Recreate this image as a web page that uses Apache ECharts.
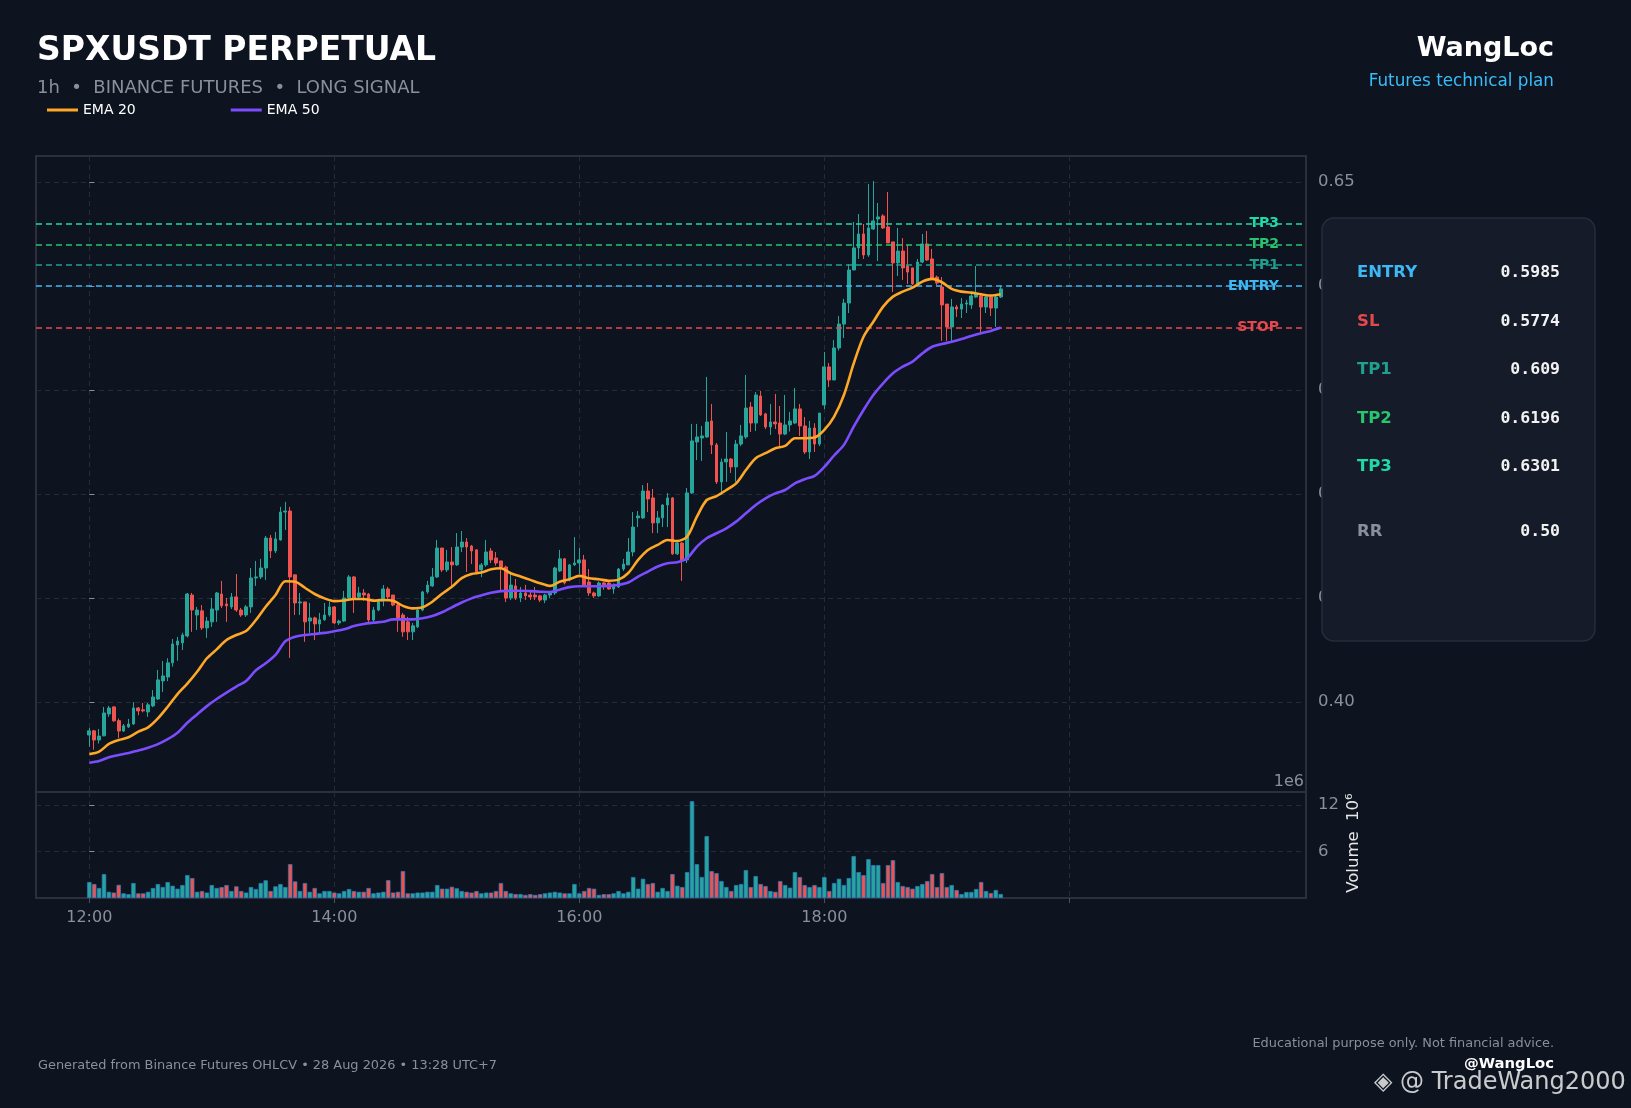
<!DOCTYPE html>
<html><head><meta charset="utf-8">
<script src="https://cdn.jsdelivr.net/npm/echarts@6/dist/echarts.min.js"></script>
<style>html,body{margin:0;padding:0;background:#0d131f;}#c{width:1631px;height:1108px;}</style>
</head><body><div id="c"></div>
<script>
// OHLC per candle: [open, high, low, close]
const candles = [
[0.3841,0.3875,0.3784,0.3861],[0.3861,0.3866,0.3770,0.3817],[0.3817,0.3870,0.3800,0.3836],[0.3837,0.3976,0.3835,0.3947],[0.3942,0.3981,0.3928,0.3971],
[0.3976,0.3980,0.3905,0.3909],[0.3910,0.3920,0.3827,0.3860],[0.3860,0.3894,0.3856,0.3885],[0.3880,0.3918,0.3875,0.3894],[0.3894,0.4000,0.3890,0.3971],
[0.3971,0.3976,0.3936,0.3957],[0.3962,0.3995,0.3950,0.3957],[0.3952,0.3995,0.3928,0.3986],[0.3981,0.4057,0.3975,0.4024],[0.4014,0.4154,0.4010,0.4106],
[0.4101,0.4197,0.4048,0.4125],[0.4120,0.4210,0.4100,0.4188],[0.4188,0.4303,0.4170,0.4279],[0.4274,0.4313,0.4198,0.4293],[0.4284,0.4333,0.4250,0.4322],
[0.4317,0.4524,0.4310,0.4519],[0.4514,0.4524,0.4337,0.4442],[0.4418,0.4457,0.4346,0.4442],[0.4438,0.4466,0.4346,0.4356],[0.4356,0.4409,0.4308,0.4389],
[0.4385,0.4500,0.4361,0.4447],[0.4442,0.4529,0.4385,0.4524],[0.4519,0.4582,0.4452,0.4462],[0.4471,0.4500,0.4385,0.4462],[0.4457,0.4524,0.4447,0.4505],
[0.4505,0.4615,0.4433,0.4442],[0.4442,0.4452,0.4409,0.4418],[0.4418,0.4466,0.4409,0.4457],[0.4457,0.4644,0.4428,0.4596],[0.4596,0.4678,0.4558,0.4601],
[0.4601,0.4688,0.4591,0.4644],[0.4644,0.4798,0.4586,0.4788],[0.4788,0.4803,0.4692,0.4726],[0.4726,0.4817,0.4716,0.4784],[0.4779,0.4938,0.4775,0.4913],
[0.4913,0.4962,0.4827,0.4918],[0.4918,0.4938,0.4212,0.4601],[0.4611,0.4611,0.4418,0.4476],[0.4476,0.4524,0.4418,0.4481],[0.4481,0.4481,0.4289,0.4385],
[0.4389,0.4476,0.4332,0.4404],[0.4404,0.4410,0.4298,0.4375],[0.4375,0.4428,0.4332,0.4395],[0.4395,0.4476,0.4390,0.4418],[0.4418,0.4481,0.4410,0.4457],
[0.4457,0.4460,0.4375,0.4380],[0.4380,0.4395,0.4370,0.4389],[0.4389,0.4534,0.4385,0.4500],[0.4500,0.4610,0.4495,0.4601],[0.4601,0.4605,0.4428,0.4500],
[0.4505,0.4553,0.4500,0.4524],[0.4524,0.4543,0.4486,0.4514],[0.4519,0.4524,0.4380,0.4394],[0.4394,0.4457,0.4385,0.4442],[0.4442,0.4495,0.4436,0.4481],
[0.4485,0.4562,0.4460,0.4543],[0.4543,0.4553,0.4490,0.4505],[0.4514,0.4514,0.4460,0.4466],[0.4466,0.4476,0.4337,0.4404],[0.4418,0.4428,0.4313,0.4337],
[0.4385,0.4409,0.4298,0.4337],[0.4337,0.4380,0.4298,0.4366],[0.4361,0.4447,0.4355,0.4442],[0.4442,0.4534,0.4436,0.4529],[0.4529,0.4582,0.4520,0.4562],
[0.4558,0.4644,0.4553,0.4601],[0.4601,0.4779,0.4596,0.4740],[0.4740,0.4740,0.4625,0.4635],[0.4635,0.4731,0.4625,0.4673],[0.4673,0.4745,0.4553,0.4659],
[0.4659,0.4812,0.4654,0.4745],[0.4745,0.4822,0.4721,0.4769],[0.4769,0.4788,0.4625,0.4745],[0.4750,0.4755,0.4663,0.4726],[0.4731,0.4735,0.4620,0.4625],
[0.4635,0.4668,0.4600,0.4659],[0.4659,0.4779,0.4650,0.4721],[0.4726,0.4740,0.4668,0.4683],[0.4692,0.4721,0.4655,0.4668],[0.4678,0.4678,0.4538,0.4649],
[0.4649,0.4655,0.4480,0.4500],[0.4500,0.4615,0.4490,0.4562],[0.4558,0.4591,0.4490,0.4500],[0.4500,0.4553,0.4480,0.4524],[0.4524,0.4563,0.4490,0.4510],
[0.4514,0.4534,0.4490,0.4505],[0.4514,0.4553,0.4490,0.4505],[0.4510,0.4515,0.4480,0.4490],[0.4490,0.4520,0.4475,0.4514],[0.4514,0.4530,0.4500,0.4524],
[0.4524,0.4650,0.4515,0.4644],[0.4630,0.4731,0.4625,0.4688],[0.4688,0.4692,0.4565,0.4572],[0.4587,0.4663,0.4580,0.4659],[0.4659,0.4793,0.4655,0.4668],
[0.4668,0.4740,0.4615,0.4683],[0.4683,0.4707,0.4555,0.4563],[0.4577,0.4639,0.4510,0.4524],[0.4524,0.4530,0.4500,0.4510],[0.4510,0.4580,0.4505,0.4572],
[0.4572,0.4577,0.4540,0.4563],[0.4572,0.4577,0.4540,0.4543],[0.4543,0.4570,0.4520,0.4558],[0.4553,0.4644,0.4548,0.4639],[0.4639,0.4688,0.4630,0.4663],
[0.4659,0.4788,0.4659,0.4721],[0.4721,0.4913,0.4700,0.4841],[0.4885,0.4918,0.4841,0.4894],[0.4885,0.5043,0.4880,0.5014],[0.5014,0.5053,0.4913,0.4976],
[0.4981,0.5024,0.4812,0.4861],[0.4861,0.4918,0.4812,0.4885],[0.4885,0.4950,0.4841,0.4947],[0.4947,0.5005,0.4841,0.4981],[0.4981,0.4985,0.4707,0.4712],
[0.4712,0.4779,0.4707,0.4764],[0.4764,0.4768,0.4582,0.4683],[0.4683,0.5029,0.4668,0.5005],[0.5005,0.5337,0.5000,0.5255],[0.5250,0.5337,0.5163,0.5274],
[0.5269,0.5327,0.5159,0.5279],[0.5274,0.5563,0.5270,0.5346],[0.5351,0.5433,0.5192,0.5236],[0.5236,0.5245,0.5048,0.5058],[0.5058,0.5170,0.4995,0.5154],
[0.5154,0.5298,0.5058,0.5168],[0.5168,0.5173,0.5101,0.5130],[0.5130,0.5260,0.5058,0.5240],[0.5240,0.5332,0.5230,0.5279],[0.5274,0.5572,0.5265,0.5413],
[0.5418,0.5442,0.5298,0.5341],[0.5341,0.5490,0.5303,0.5476],[0.5471,0.5495,0.5375,0.5380],[0.5385,0.5390,0.5312,0.5322],[0.5322,0.5433,0.5284,0.5346],
[0.5346,0.5481,0.5312,0.5337],[0.5341,0.5423,0.5231,0.5288],[0.5288,0.5476,0.5283,0.5332],[0.5332,0.5394,0.5300,0.5351],[0.5341,0.5510,0.5336,0.5409],
[0.5409,0.5433,0.5279,0.5327],[0.5327,0.5370,0.5192,0.5202],[0.5202,0.5351,0.5168,0.5317],[0.5317,0.5340,0.5202,0.5240],[0.5240,0.5389,0.5230,0.5389],
[0.5428,0.5683,0.5408,0.5611],[0.5611,0.5630,0.5514,0.5548],[0.5548,0.5740,0.5548,0.5702],[0.5702,0.5856,0.5690,0.5817],[0.5817,0.5938,0.5750,0.5918],
[0.5918,0.6106,0.5870,0.6077],[0.6077,0.6308,0.6077,0.6183],[0.6183,0.6346,0.6130,0.6250],[0.6250,0.6298,0.6130,0.6149],[0.6149,0.6490,0.6140,0.6279],
[0.6274,0.6505,0.6270,0.6313],[0.6322,0.6399,0.6120,0.6332],[0.6337,0.6345,0.6274,0.6279],[0.6284,0.6452,0.6207,0.6207],[0.6212,0.6212,0.5971,0.6111],
[0.6111,0.6279,0.6048,0.6168],[0.6168,0.6230,0.6029,0.6087],[0.6096,0.6197,0.6010,0.6067],[0.6087,0.6087,0.6005,0.6010],[0.6010,0.6130,0.6005,0.6115],
[0.6115,0.6250,0.6110,0.6202],[0.6202,0.6264,0.6120,0.6125],[0.6130,0.6178,0.6034,0.6038],[0.6043,0.6050,0.6005,0.6014],[0.5995,0.6043,0.5736,0.5909],
[0.5913,0.5913,0.5736,0.5803],[0.5803,0.5938,0.5736,0.5899],[0.5899,0.5909,0.5851,0.5889],[0.5889,0.5942,0.5846,0.5913],[0.5913,0.5933,0.5870,0.5918],
[0.5909,0.5962,0.5890,0.5952],[0.5947,0.6096,0.5942,0.5962],[0.5952,0.5957,0.5774,0.5899],[0.5899,0.5957,0.5870,0.5947],[0.5947,0.5952,0.5856,0.5894],
[0.5894,0.5962,0.5803,0.5947],[0.5947,0.6000,0.5942,0.5986]
];
// volume in millions, one per candle
const volumes = [
2.06,1.80,1.29,3.08,0.80,0.70,1.70,0.60,0.50,1.93,
0.60,0.60,0.80,1.29,1.80,1.41,2.06,1.58,1.20,1.67,
2.95,2.57,0.80,0.90,0.70,1.67,1.29,1.41,1.67,0.90,
1.50,0.90,0.70,1.41,1.16,1.93,2.28,0.90,1.50,1.80,
1.41,4.37,2.14,0.90,1.93,0.80,1.29,0.60,0.90,0.90,
0.70,0.60,0.90,1.16,0.90,0.80,0.80,1.29,0.60,0.70,
0.80,2.30,0.70,0.80,3.47,0.60,0.60,0.70,0.70,0.80,
0.80,1.67,1.20,1.20,1.45,1.25,0.90,0.80,0.70,0.90,
0.60,0.70,0.70,0.90,1.93,0.90,0.60,0.50,0.50,0.40,
0.50,0.40,0.50,0.60,0.70,0.80,0.70,0.60,0.60,1.80,
0.60,0.90,1.29,1.20,0.40,0.50,0.50,0.60,0.90,0.60,
0.80,2.70,1.20,2.48,1.80,1.93,0.80,1.29,0.90,3.08,
1.58,1.41,3.34,12.47,4.37,2.70,7.97,3.47,3.21,2.18,
1.41,0.90,1.67,1.80,3.60,1.41,2.83,1.80,1.54,0.90,
0.80,2.18,1.67,1.33,3.34,2.70,1.67,1.41,1.67,1.41,
2.70,0.90,1.93,2.48,1.67,2.57,5.40,3.34,2.95,5.01,
4.24,4.24,1.93,4.24,4.88,2.06,1.54,1.41,1.20,1.54,
1.80,2.18,3.08,1.41,3.21,1.41,1.67,1.03,0.51,0.77,
0.77,1.16,2.06,0.90,0.64,1.03,0.51
];
// EMA readings, sampled every second candle
const emaIdx = [0,2,4,6,8,10,12,14,16,18,20,22,24,26,28,30,32,34,36,38,40,42,44,46,48,50,52,54,56,58,60,62,64,66,68,70,72,74,76,78,80,82,84,86,88,90,92,94,96,98,100,102,104,106,108,110,112,114,116,118,120,122,124,126,128,130,132,134,136,138,140,142,144,146,148,150,152,154,156,158,160,162,164,166,168,170,172,174,176,178,180,182,184,186];
const ema20 = [0.3749,0.3761,0.3798,0.3817,0.3830,0.3857,0.3878,0.3921,0.3977,0.4038,0.4088,0.4145,0.4210,0.4253,0.4298,0.4322,0.4341,0.4394,0.4458,0.4514,0.4580,0.4578,0.4549,0.4519,0.4498,0.4485,0.4488,0.4495,0.4495,0.4487,0.4490,0.4487,0.4462,0.4450,0.4455,0.4482,0.4520,0.4554,0.4595,0.4615,0.4622,0.4638,0.4643,0.4619,0.4603,0.4587,0.4571,0.4558,0.4578,0.4590,0.4606,0.4595,0.4590,0.4583,0.4588,0.4620,0.4683,0.4731,0.4755,0.4779,0.4774,0.4795,0.4891,0.4971,0.4990,0.5019,0.5051,0.5115,0.5172,0.5196,0.5220,0.5231,0.5268,0.5268,0.5271,0.5308,0.5372,0.5476,0.5628,0.5756,0.5828,0.5901,0.5949,0.5973,0.5992,0.6021,0.6034,0.6018,0.5986,0.5973,0.5968,0.5960,0.5954,0.5960];
const ema50 = [0.3708,0.3716,0.3734,0.3745,0.3755,0.3766,0.3780,0.3797,0.3821,0.3852,0.3900,0.3940,0.3980,0.4014,0.4045,0.4074,0.4101,0.4152,0.4186,0.4226,0.4292,0.4314,0.4322,0.4327,0.4332,0.4340,0.4349,0.4365,0.4375,0.4381,0.4386,0.4397,0.4397,0.4397,0.4402,0.4413,0.4431,0.4455,0.4478,0.4498,0.4512,0.4525,0.4533,0.4535,0.4535,0.4533,0.4530,0.4528,0.4540,0.4552,0.4556,0.4556,0.4556,0.4558,0.4563,0.4574,0.4603,0.4627,0.4651,0.4667,0.4672,0.4691,0.4747,0.4787,0.4811,0.4835,0.4867,0.4907,0.4947,0.4979,0.5003,0.5019,0.5051,0.5071,0.5087,0.5130,0.5185,0.5236,0.5324,0.5404,0.5476,0.5532,0.5580,0.5612,0.5636,0.5676,0.5708,0.5721,0.5732,0.5745,0.5760,0.5773,0.5784,0.5800];
const timeTickIdx = [0,50,100,150,200];
const timeTickLabels = ['12:00','14:00','16:00','18:00',''];
const priceTicks = [0.40,0.45,0.50,0.55,0.60,0.65];
const volumeTicks = [6,12];
const levelNames = ['TP3','TP2','TP1','ENTRY','STOP'];
const levelValues = [0.6301,0.6196,0.609,0.5985,0.5774];
const panelLabels = ['ENTRY','SL','TP1','TP2','TP3','RR'];
const panelValues = ['0.5985','0.5774','0.609','0.6196','0.6301','0.50'];

const UP='#26a69a', DOWN='#ef5350';
const levelColors = ['#1fd9a7','#28c46f','#1fa08e','#3db8f5','#e5484d'];
const panelColors = ['#3db8f5','#e5484d','#1fa08e','#28c46f','#1fd9a7','#8a8f9c'];
const GRAY='#8a8f9c', GRID='#252b37', FONT='DejaVu Sans';
const XMIN=-10.88, XMAX=248.3;

const candleData = candles.map((c,i)=>[i,c[0],c[3],c[2],c[1]]);
const volData = volumes.map((v,i)=>({value:[i,v],itemStyle:{color:candles[i][3]>=candles[i][0]?UP:DOWN}}));
const tickLabelMap = {}; timeTickIdx.forEach((t,k)=>tickLabelMap[t]=timeTickLabels[k]);

const panelRows=[273,322,370,419,467,532];
const graphics = [
 {type:'text',x:37,y:51,style:{text:'SPXUSDT PERPETUAL',fill:'#ffffff',font:'bold 33px "DejaVu Sans"',verticalAlign:'middle'}},
 {type:'text',x:37,y:88,style:{text:'1h  \u2022  BINANCE FUTURES  \u2022  LONG SIGNAL',fill:GRAY,font:'18px "DejaVu Sans"',verticalAlign:'middle'}},
 {type:'text',x:1554,y:49,style:{text:'WangLoc',fill:'#ffffff',font:'bold 27px "DejaVu Sans"',align:'right',verticalAlign:'middle'}},
 {type:'text',x:1554,y:82,style:{text:'Futures technical plan',fill:'#38bdf8',font:'16.8px "DejaVu Sans"',align:'right',verticalAlign:'middle'}},
 {type:'text',x:1304,y:782,style:{text:'1e6',fill:GRAY,font:'16px "DejaVu Sans"',align:'right',verticalAlign:'middle'}},
 {type:'text',x:1354,y:843,rotation:Math.PI/2,style:{text:'Volume  10\u2076',fill:'#e6e6e6',font:'16.5px "DejaVu Sans"',align:'center',verticalAlign:'middle'}},
 {type:'text',x:38,y:1066,style:{text:'Generated from Binance Futures OHLCV \u2022 28 Aug 2026 \u2022 13:28 UTC+7',fill:GRAY,font:'12.9px "DejaVu Sans"',verticalAlign:'middle'}},
 {type:'text',x:1554,y:1044,style:{text:'Educational purpose only. Not financial advice.',fill:GRAY,font:'12.9px "DejaVu Sans"',align:'right',verticalAlign:'middle'}},
 {type:'text',x:1554,y:1064,style:{text:'@WangLoc',fill:'#ffffff',font:'bold 14.8px "DejaVu Sans"',align:'right',verticalAlign:'middle'}},
 {type:'text',x:1374,y:1083,z:120,style:{text:'\u25C8 @ TradeWang2000',fill:'rgba(235,235,235,0.85)',font:'24px "DejaVu Sans"',verticalAlign:'middle'}},
 {type:'rect',z:100,shape:{x:1322,y:218,width:273,height:423,r:12},style:{fill:'#151b29',stroke:'#272d3b',lineWidth:1.5}}
];
panelLabels.forEach((l,k)=>{
  graphics.push({type:'text',z:101,x:1357,y:panelRows[k],style:{text:l,fill:panelColors[k],font:'bold 16.5px "DejaVu Sans"',verticalAlign:'middle'}});
  graphics.push({type:'text',z:101,x:1560,y:panelRows[k],style:{text:panelValues[k],fill:'#f2f2f2',font:'bold 16.5px "DejaVu Sans Mono"',align:'right',verticalAlign:'middle'}});
});

const chart = echarts.init(document.getElementById('c'), null, {renderer:'canvas'});
chart.setOption({
  backgroundColor:'#0d131f',
  animation:false,
  textStyle:{fontFamily:FONT},
  legend:{left:42,top:98,itemWidth:31,itemHeight:3,itemGap:95,icon:'rect',
    textStyle:{color:'#ffffff',fontSize:14,fontFamily:FONT},
    data:[{name:'EMA 20',itemStyle:{color:'#ffa726'}},{name:'EMA 50',itemStyle:{color:'#7c4dff'}}]},
  grid:[
    {left:36,top:156,width:1270,height:636,show:true,borderColor:'#2b303c',borderWidth:2,backgroundColor:'transparent'},
    {left:36,top:792,width:1270,height:106,show:true,borderColor:'#2b303c',borderWidth:2,backgroundColor:'transparent'}
  ],
  xAxis:[
    {type:'value',gridIndex:0,min:XMIN,max:XMAX,axisLine:{show:false},
     axisTick:{show:false,customValues:timeTickIdx},axisLabel:{show:false,customValues:timeTickIdx},
     splitLine:{show:true,lineStyle:{color:GRID,type:[5,4],width:1}}},
    {type:'value',gridIndex:1,min:XMIN,max:XMAX,axisLine:{show:false},
     axisTick:{show:true,customValues:timeTickIdx,length:5,lineStyle:{color:'#4a505c'}},
     axisLabel:{show:true,customValues:timeTickIdx,color:GRAY,fontSize:16,margin:12,formatter:v=>tickLabelMap[v]!==undefined?tickLabelMap[v]:''},
     splitLine:{show:true,lineStyle:{color:GRID,type:[5,4],width:1}}}
  ],
  yAxis:[
    {type:'value',gridIndex:0,position:'right',min:0.3567,max:0.6625,axisLine:{show:false},
     axisTick:{show:true,customValues:priceTicks,length:5,lineStyle:{color:GRAY}},
     axisLabel:{customValues:priceTicks,color:GRAY,fontSize:16.5,margin:12,formatter:v=>v.toFixed(2)},
     splitLine:{show:true,lineStyle:{color:GRID,type:[5,4],width:1}}},
    {type:'value',gridIndex:1,position:'right',min:0,max:13.66,axisLine:{show:false},
     axisTick:{show:true,customValues:volumeTicks,length:5,lineStyle:{color:GRAY}},
     axisLabel:{customValues:volumeTicks,color:GRAY,fontSize:16.5,margin:12,formatter:v=>String(v)},
     splitLine:{show:true,lineStyle:{color:GRID,type:[5,4],width:1}}}
  ],
  series:[
    {type:'candlestick',name:'Price',xAxisIndex:0,yAxisIndex:0,data:candleData,barWidth:3.2,
     encode:{x:0,y:[1,2,3,4]},
     itemStyle:{color:UP,color0:DOWN,borderColor:UP,borderColor0:DOWN,borderColorDoji:UP,borderWidth:1},
     markLine:{silent:true,symbol:['none','none'],animation:false,
       data:levelValues.map((v,k)=>({yAxis:v,lineStyle:{color:levelColors[k],type:[6,4],width:1.6},
         label:{show:true,formatter:levelNames[k],position:'insideEnd',distance:[27,0],color:levelColors[k],fontWeight:'bold',fontSize:14,fontFamily:FONT}}))}},
    {type:'line',name:'EMA 20',xAxisIndex:0,yAxisIndex:0,data:emaIdx.map((x,k)=>[x,ema20[k]]),
     showSymbol:false,smooth:0.3,lineStyle:{color:'#ffa726',width:2.6},itemStyle:{color:'#ffa726'},z:5},
    {type:'line',name:'EMA 50',xAxisIndex:0,yAxisIndex:0,data:emaIdx.map((x,k)=>[x,ema50[k]]),
     showSymbol:false,smooth:0.3,lineStyle:{color:'#7c4dff',width:2.6},itemStyle:{color:'#7c4dff'},z:5},
    {type:'bar',name:'Volume',xAxisIndex:1,yAxisIndex:1,data:volData,barWidth:4.4,
     itemStyle:{borderColor:'#2b7bc4',borderWidth:0.7}}
  ],
  graphic:graphics
});
</script></body></html>
